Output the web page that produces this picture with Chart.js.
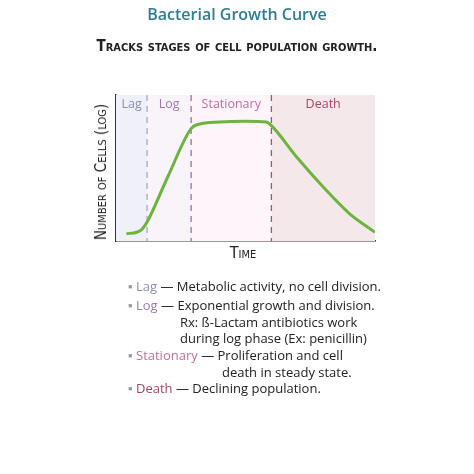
<!DOCTYPE html>
<html><head><meta charset="utf-8">
<script src="https://cdn.jsdelivr.net/npm/chart.js@4"></script>
<style>
body{margin:0;background:#fff;font-family:"Open Sans",sans-serif;}
#wrap{position:relative;width:474px;height:474px;}
canvas{position:absolute;left:0;top:0;}
.t{position:absolute;white-space:nowrap;}
.sc{font-family:"DejaVu Sans Condensed","Liberation Sans Narrow",sans-serif;font-variant:small-caps;color:#222;}
.lg{position:absolute;left:128px;font-size:13px;color:#222;line-height:16.5px;}
.lg b{font-weight:normal;}
</style></head><body>
<div id="wrap">
<canvas id="c" width="474" height="474"></canvas>
<div class="t" style="left:0;width:474px;text-align:center;top:3px;font-size:16px;font-weight:600;color:#2c7d98;">Bacterial Growth Curve</div>
<div class="t sc" style="left:0;width:474px;text-align:center;top:37px;font-size:15px;font-weight:bold;">Tracks stages of cell population growth.</div>
<div class="t sc" style="left:101px;top:172px;font-size:15px;transform:translate(-50%,-50%) rotate(-90deg);">Number of Cells (log)</div>
<div class="t sc" style="left:243px;top:243px;font-size:16px;transform:translateX(-50%);">Time</div>
<div class="lg" style="top:278px;"><span style="color:#999">▪</span> <b style="color:#8a8fb8">Lag</b> — Metabolic activity, no cell division.</div>
<div class="lg" style="top:297px;"><span style="color:#999">▪</span> <b style="color:#9b7ab0">Log</b> — Exponential growth and division.<br><span style="padding-left:52px">Rx: ß-Lactam antibiotics work</span><br><span style="padding-left:52px">during log phase (Ex: penicillin)</span></div>
<div class="lg" style="top:347px;"><span style="color:#999">▪</span> <b style="color:#c0709e">Stationary</b> — Proliferation and cell<br><span style="padding-left:94px">death in steady state.</span></div>
<div class="lg" style="top:380px;"><span style="color:#999">▪</span> <b style="color:#a8466a">Death</b> — Declining population.</div>
</div>
<script>
const phases = ["Lag", "Log", "Stationary", "Death"];
const phaseEdges = [0, 12, 29, 60, 100];
const timeX = [4, 8, 10, 12, 20, 29, 32, 40, 50, 58, 60, 70, 80, 90, 100];
const cellsY = [5, 6, 8, 13, 44, 77, 80, 81.5, 82, 81.5, 79, 57, 37, 19, 6];

const bandFill = ["#eff0f8", "#f8f4fa", "#fdf5f9", "#f5e8eb"];
const bandText = ["#8a8fb8", "#9b7ab0", "#c0709e", "#a8466a"];
const lineCol = ["#a6a6cc", "#9b6cae", "#b04c82"];

const bands = {
  id: "bands",
  beforeDatasetsDraw(chart) {
    const { ctx, chartArea: a, scales: { x } } = chart;
    ctx.save();
    for (let i = 0; i < 4; i++) {
      const x0 = x.getPixelForValue(phaseEdges[i]), x1 = x.getPixelForValue(phaseEdges[i + 1]);
      ctx.fillStyle = bandFill[i];
      ctx.fillRect(x0, a.top, x1 - x0, a.bottom - a.top);
      ctx.fillStyle = bandText[i];
      ctx.font = "12.5px 'Open Sans'";
      ctx.textAlign = "center";
      ctx.textBaseline = "middle";
      ctx.fillText(phases[i], (x0 + x1) / 2, a.top + 9);
    }
    ctx.setLineDash([6, 5]);
    ctx.lineWidth = 1.3;
    for (let i = 1; i < 4; i++) {
      const xp = x.getPixelForValue(phaseEdges[i]);
      ctx.strokeStyle = lineCol[i - 1];
      ctx.beginPath(); ctx.moveTo(xp, a.top); ctx.lineTo(xp, a.bottom); ctx.stroke();
    }
    ctx.restore();
  }
};

new Chart(document.getElementById("c"), {
  type: "line",
  data: { datasets: [{
    data: timeX.map((t, i) => ({ x: t, y: cellsY[i] })),
    borderColor: "#6cb43f", borderWidth: 3, pointRadius: 0, cubicInterpolationMode: "monotone"
  }] },
  options: {
    responsive: false, animation: false,
    layout: { padding: { left: 108, right: 99, top: 95, bottom: 225 } },
    plugins: { legend: { display: false }, tooltip: { enabled: false } },
    scales: {
      x: { type: "linear", min: 0, max: 100, ticks: { display: false }, grid: { display: false }, border: { color: "#333", width: 1.5 } },
      y: { min: 0, max: 100, ticks: { display: false }, grid: { display: false }, border: { color: "#333", width: 1.5 } }
    }
  },
  plugins: [bands]
});
</script>
</body></html>
